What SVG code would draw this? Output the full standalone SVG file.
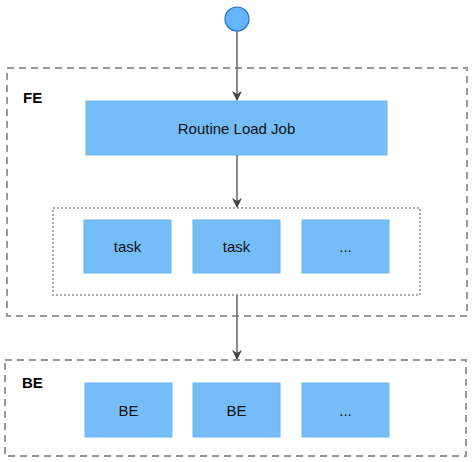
<svg xmlns="http://www.w3.org/2000/svg" width="474" height="462" viewBox="0 0 474 462">
<style>
.box{fill:#74bdf9;stroke:#6cb4f0;stroke-width:1}
.lbl{font-family:"Liberation Sans",Arial,sans-serif;font-size:15px;fill:#111;text-anchor:middle;dominant-baseline:central}
.title{font-family:"Liberation Sans",Arial,sans-serif;font-size:15px;font-weight:bold;fill:#000}
.cont{fill:none;stroke:#999;stroke-width:2;stroke-dasharray:7 5}
.dot{fill:none;stroke:#aaa;stroke-width:2;stroke-dasharray:2 2}
.edge{stroke:#666;stroke-width:1.5;fill:none}
</style>
<defs>
<marker id="arr" markerWidth="10" markerHeight="10" refX="9" refY="5" orient="auto" markerUnits="userSpaceOnUse">
<path d="M0,0 L10,5 L0,10 L3,5 Z" fill="#444"/>
</marker>
</defs>
<rect width="474" height="462" fill="#fff"/>
<g id="fe-container">
<rect class="cont" x="7" y="68" width="460" height="248"/>
<text class="title" x="23" y="103">FE</text>
</g>
<g id="be-container">
<rect class="cont" x="5" y="360" width="461" height="96"/>
<text class="title" x="22" y="388">BE</text>
</g>
<g id="start">
<circle cx="237" cy="19" r="12" fill="#66b3ff" stroke="#1f6fbf" stroke-width="1.2"/>
</g>
<g id="routine-load-job">
<rect class="box" x="86" y="101" width="301" height="54"/>
<text class="lbl" x="236.5" y="128">Routine Load Job</text>
</g>
<g id="task-group">
<rect class="dot" x="53" y="208" width="367" height="87"/>
</g>
<g id="task1">
<rect class="box" x="84" y="220" width="87" height="53"/>
<text class="lbl" x="127.5" y="246.5">task</text>
</g>
<g id="task2">
<rect class="box" x="193" y="220" width="87" height="53"/>
<text class="lbl" x="236.5" y="246.5">task</text>
</g>
<g id="task3">
<rect class="box" x="302" y="220" width="87" height="53"/>
<text class="lbl" x="345.5" y="246.5">...</text>
</g>
<g id="be1">
<rect class="box" x="85" y="383" width="87" height="54"/>
<text class="lbl" x="128.5" y="410">BE</text>
</g>
<g id="be2">
<rect class="box" x="193" y="383" width="87" height="54"/>
<text class="lbl" x="236.5" y="410">BE</text>
</g>
<g id="be3">
<rect class="box" x="302" y="383" width="87" height="54"/>
<text class="lbl" x="345.5" y="410">...</text>
</g>
<g id="connectors">
<line class="edge" x1="237" y1="31" x2="237" y2="100" marker-end="url(#arr)"/>
<line class="edge" x1="237" y1="155" x2="237" y2="207" marker-end="url(#arr)"/>
<line class="edge" x1="237" y1="295" x2="237" y2="359" marker-end="url(#arr)"/>
</g>
</svg>
